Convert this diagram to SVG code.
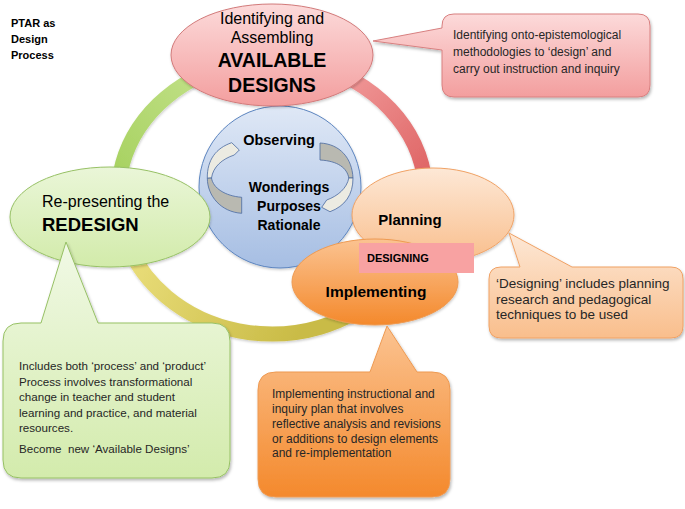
<svg xmlns="http://www.w3.org/2000/svg" width="685" height="509" viewBox="0 0 685 509">
<style>
text{font-family:"Liberation Sans",Arial,sans-serif;fill:#000}
.b{font-weight:bold}
.ct{fill:#262626}
.ring{fill:none;stroke-width:15}
</style>
<defs>
<filter id="sh" x="-10%" y="-10%" width="125%" height="130%"><feDropShadow dx="1" dy="2" stdDeviation="1.6" flood-color="#000" flood-opacity="0.28"/></filter>
<filter id="sh2" x="-10%" y="-10%" width="125%" height="130%"><feDropShadow dx="0.5" dy="1.5" stdDeviation="1.2" flood-color="#000" flood-opacity="0.2"/></filter>
<linearGradient id="gPink" x1="0" y1="0" x2="0" y2="1"><stop offset="0" stop-color="#fcdada"/><stop offset="1" stop-color="#f39e9e"/></linearGradient>
<linearGradient id="gGreen" x1="0" y1="0" x2="0" y2="1"><stop offset="0" stop-color="#eaf6d8"/><stop offset="1" stop-color="#d2ebaa"/></linearGradient>
<linearGradient id="gGreenBox" x1="0" y1="0" x2="0" y2="1"><stop offset="0" stop-color="#f1f9e6"/><stop offset="1" stop-color="#d3ebac"/></linearGradient>
<linearGradient id="gBlue" x1="0" y1="0" x2="0" y2="1"><stop offset="0" stop-color="#dfe8f6"/><stop offset="1" stop-color="#a6bee3"/></linearGradient>
<linearGradient id="gPeach" x1="0" y1="0" x2="0" y2="1"><stop offset="0" stop-color="#fde8d6"/><stop offset="1" stop-color="#f9be8c"/></linearGradient>
<linearGradient id="gOrange" x1="0" y1="0" x2="0" y2="1"><stop offset="0" stop-color="#fbc391"/><stop offset="1" stop-color="#f4892c"/></linearGradient>
<linearGradient id="rGreen" gradientUnits="userSpaceOnUse" x1="232" y1="65" x2="120" y2="173"><stop offset="0" stop-color="#c6e38e"/><stop offset="1" stop-color="#a8d262"/></linearGradient>
<linearGradient id="rRed" gradientUnits="userSpaceOnUse" x1="312" y1="65" x2="425" y2="185"><stop offset="0" stop-color="#f4a4a4"/><stop offset="1" stop-color="#de6262"/></linearGradient>
<linearGradient id="rOlive" gradientUnits="userSpaceOnUse" x1="127" y1="244" x2="300" y2="334"><stop offset="0" stop-color="#ebdf7c"/><stop offset="1" stop-color="#c9bb46"/></linearGradient>
</defs>

<rect width="685" height="509" fill="#fff"/>

<g id="title">
<text x="11" y="27" class="b" font-size="11">PTAR as</text>
<text x="11" y="43" class="b" font-size="11">Design</text>
<text x="11" y="59" class="b" font-size="11">Process</text>
</g>

<g id="connectors" filter="url(#sh2)">
<path class="ring" stroke="url(#rGreen)" d="M 120.3 173.2 A 154 137 0 0 1 232.1 64.7"/>
<path class="ring" stroke="url(#rRed)" d="M 311.9 64.7 A 154 137 0 0 1 425.4 185.1"/>
<path class="ring" stroke="url(#rOlive)" d="M 380.9 293.9 A 154 137 0 0 1 127.3 243.9"/>
</g>

<g id="observing">
<circle cx="280" cy="187" r="81" fill="url(#gBlue)" stroke="#5b84bf" stroke-width="1" filter="url(#sh2)"/>
<path d="M 231.7 142.7 L 239.3 150 L 234.3 155 C 222 159 213 167 211.5 178 L 207.3 178.3 C 207 160 216 148 231.7 142.7 Z" fill="#ecebe2" stroke="#4a6aa0" stroke-width="0.8"/>
<path d="M 207.3 178.3 C 207.5 196 221 212 241.7 213.3 L 241.7 197.3 C 225 196 213 188 211.5 178 Z" fill="#b9b9b1" stroke="#4a6aa0" stroke-width="0.8"/>
<path d="M 320 143 C 340 144 352 158 353 178 L 348.8 178 C 347 168 338 161 320 160 Z" fill="#b9b9b1" stroke="#4a6aa0" stroke-width="0.8"/>
<path d="M 353 178 C 353 195 345 206 330 211.7 L 321.7 207.3 L 326.7 200 C 338 196 347 188 348.8 178 Z" fill="#ecebe2" stroke="#4a6aa0" stroke-width="0.8"/>
<text x="279" y="145" class="b" font-size="14.5" text-anchor="middle">Observing</text>
<text x="289" y="192" class="b" font-size="14" text-anchor="middle">Wonderings</text>
<text x="289" y="211" class="b" font-size="14" text-anchor="middle">Purposes</text>
<text x="289" y="230" class="b" font-size="14" text-anchor="middle">Rationale</text>
</g>

<g id="available-designs">
<ellipse cx="272" cy="55" rx="101" ry="51" fill="url(#gPink)" stroke="#d27a7a" stroke-width="1" filter="url(#sh2)"/>
<text x="272" y="24" font-size="16" text-anchor="middle">Identifying and</text>
<text x="272" y="43" font-size="16" text-anchor="middle">Assembling</text>
<text x="272" y="66.5" class="b" font-size="19.5" text-anchor="middle">AVAILABLE</text>
<text x="272" y="91.5" class="b" font-size="19.5" text-anchor="middle">DESIGNS</text>
</g>

<g id="redesign">
<ellipse cx="110" cy="217" rx="100" ry="50" fill="url(#gGreen)" stroke="#97c165" stroke-width="1" filter="url(#sh2)"/>
<text x="42" y="207" font-size="16">Re-presenting the</text>
<text x="42" y="231" class="b" font-size="18.5">REDESIGN</text>
</g>

<g id="planning">
<ellipse cx="433" cy="215" rx="81" ry="47" fill="url(#gPeach)" stroke="#f0a265" stroke-width="1" filter="url(#sh2)"/>
<text x="410" y="225" class="b" font-size="15" text-anchor="middle">Planning</text>
</g>

<g id="implementing">
<ellipse cx="375" cy="282" rx="83" ry="43" fill="url(#gOrange)" stroke="#ee9a52" stroke-width="1" filter="url(#sh2)"/>
<text x="376" y="297" class="b" font-size="15.5" text-anchor="middle">Implementing</text>
</g>

<g id="designing">
<rect x="359" y="243" width="115" height="30" fill="#f8a2a2"/>
<text x="367" y="262" class="b" font-size="11" fill="#1a1a1a">DESIGNING</text>
</g>

<g id="callout-available">
<path d="M 454 14 H 638 Q 650 14 650 26 V 85 Q 650 97 638 97 H 454 Q 442 97 442 85 V 50 L 373 41 L 442 28 V 26 Q 442 14 454 14 Z" fill="url(#gPink)" stroke="#d88080" stroke-width="1" filter="url(#sh)"/>
<text x="453" y="39" font-size="12" class="ct">Identifying onto-epistemological</text>
<text x="453" y="56" font-size="12" class="ct">methodologies to ‘design’ and</text>
<text x="453" y="73" font-size="12" class="ct">carry out instruction and inquiry</text>
</g>

<g id="callout-designing">
<path d="M 501 267 H 520 L 509 233 L 572 267 H 671 Q 683 267 683 279 V 326 Q 683 338 671 338 H 501 Q 489 338 489 326 V 279 Q 489 267 501 267 Z" fill="url(#gPeach)" stroke="#f0a265" stroke-width="1" filter="url(#sh)"/>
<text x="496" y="288" font-size="13.5" class="ct">‘Designing’ includes planning</text>
<text x="496" y="304" font-size="13.5" class="ct">research and pedagogical</text>
<text x="496" y="319" font-size="13.5" class="ct">techniques to be used</text>
</g>

<g id="callout-implementing">
<path d="M 276 372 H 370 L 387 326 L 417 372 H 432 Q 450 372 450 390 V 479 Q 450 497 432 497 H 276 Q 258 497 258 479 V 390 Q 258 372 276 372 Z" fill="url(#gOrange)" stroke="#ee9a52" stroke-width="1" filter="url(#sh)"/>
<text x="272" y="398" font-size="12" class="ct">Implementing instructional and</text>
<text x="272" y="413" font-size="12" class="ct">inquiry plan that involves</text>
<text x="272" y="428" font-size="12" class="ct">reflective analysis and revisions</text>
<text x="272" y="443" font-size="12" class="ct">or additions to design elements</text>
<text x="272" y="457" font-size="12" class="ct">and re-implementation</text>
</g>

<g id="callout-redesign">
<path d="M 21 323 H 41 L 66 242 L 98 323 H 212 Q 230 323 230 341 V 460 Q 230 478 212 478 H 21 Q 3 478 3 460 V 341 Q 3 323 21 323 Z" fill="url(#gGreenBox)" stroke="#97c165" stroke-width="1" filter="url(#sh)"/>
<text x="19" y="370" font-size="11.6" class="ct">Includes both ‘process’ and ‘product’</text>
<text x="19" y="386" font-size="11.6" class="ct">Process involves transformational</text>
<text x="19" y="401" font-size="11.6" class="ct">change in teacher and student</text>
<text x="19" y="417" font-size="11.6" class="ct">learning and practice, and material</text>
<text x="19" y="432" font-size="11.6" class="ct">resources.</text>
<text x="19" y="453" font-size="11.6" class="ct" xml:space="preserve">Become  new ‘Available Designs’</text>
</g>
</svg>
